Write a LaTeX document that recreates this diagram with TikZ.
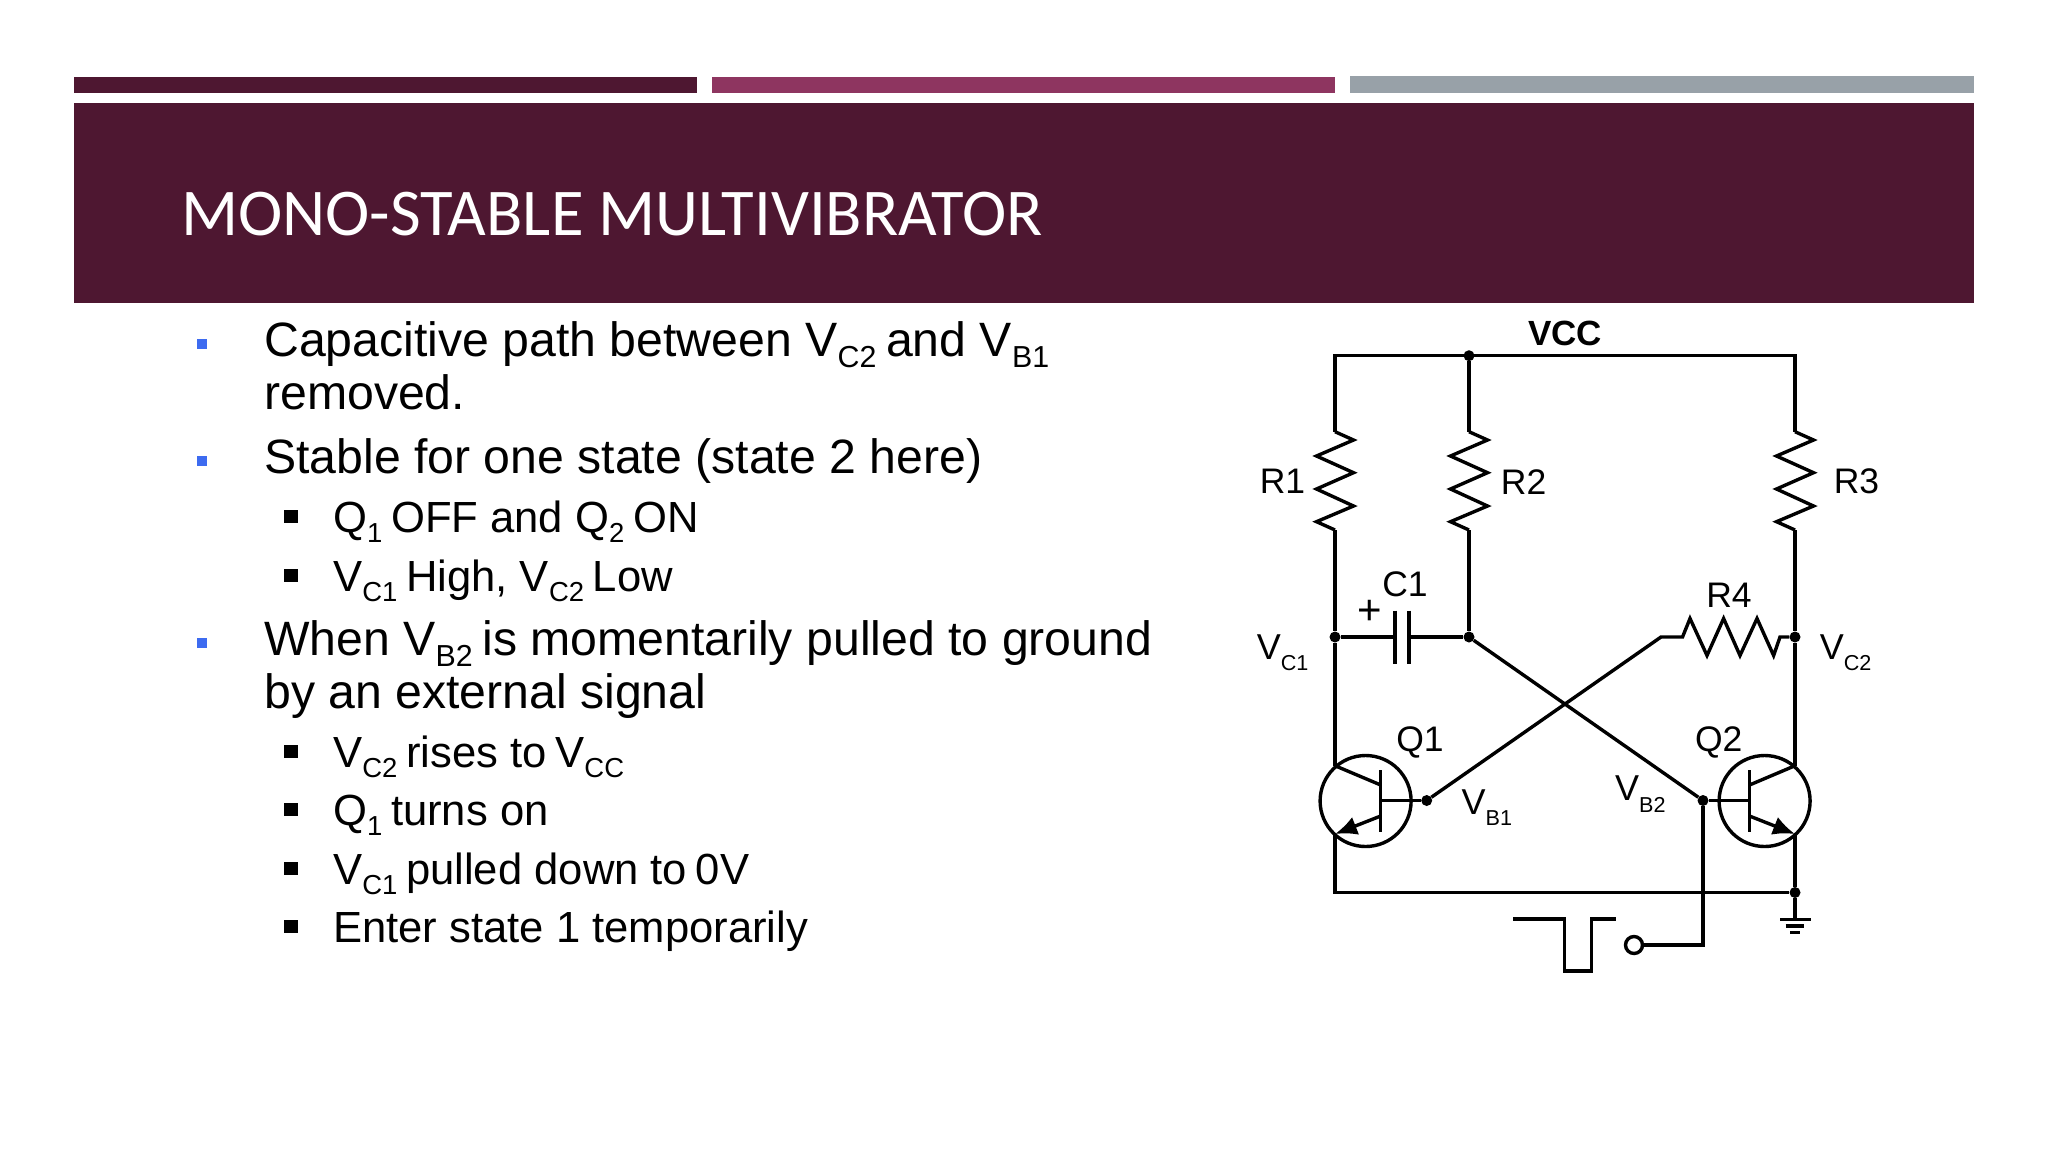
\documentclass[tikz,border=0pt]{standalone}
\usepackage{fontspec}
\usepackage{graphicx}
\usetikzlibrary{arrows.meta}
\setmainfont{Liberation Sans}
\newfontfamily\titlefont{Carlito}
\definecolor{wine}{HTML}{4E1731}
\definecolor{plum}{HTML}{8E3560}
\definecolor{slate}{HTML}{98A1A8}
\definecolor{bulletblue}{HTML}{3D6BF0}
\newcommand{\subt}[1]{\raisebox{-.24em}{\scalebox{.63}{#1}}}
\newcommand{\nsub}[1]{\raisebox{-.32em}{\scalebox{.6}{#1}}}
\newcommand{\gap}{\hspace{.2em}}
\tikzset{
  lvlone/.style={anchor=base west,inner sep=0pt,font=\fontsize{48.2}{54}\selectfont,text=black},
  lvltwo/.style={anchor=base west,inner sep=0pt,font=\fontsize{43.6}{50}\selectfont,text=black},
  blueb/.style={fill=bulletblue,draw=none},
  blackb/.style={fill=black,draw=none},
  wire/.style={line width=3.4pt,draw=black,line join=miter},
  dotn/.style={circle,fill=black,inner sep=0pt,minimum size=11pt},
  lab/.style={inner sep=0pt,font=\fontsize{35.5}{40}\selectfont},
  vlab/.style={anchor=base west,inner sep=0pt,font=\fontsize{36}{40}\selectfont},
  xtor/.style={circle,draw=black,line width=3.4pt,inner sep=0pt,minimum size=91pt},
  emit/.style={wire,-{Latex[length=22pt,width=19pt]}},
}
\begin{document}
\begin{tikzpicture}[x=1pt,y=-1pt]
\useasboundingbox (0,0) rectangle (2048,1152);
\fill[white] (0,0) rectangle (2048,1152);
% header
\fill[wine] (74,77) rectangle (697,93);
\fill[plum] (712,77) rectangle (1335,93);
\fill[slate] (1350,76) rectangle (1974,93);
\fill[wine] (74,103) rectangle (1974,303);
\node[anchor=base west,inner sep=0pt,text=white,font=\titlefont\fontsize{66.8}{70}\selectfont] (title) at (181,235) {MONO-STABLE MULTIVIBRATOR};
% bullets
\fill[blueb] (197,339) rectangle (206.5,349);
\fill[blueb] (197,456) rectangle (206.5,466);
\fill[blueb] (197,638) rectangle (206.5,648);
\foreach \yy in {510,569,745,803,862,920} \fill[blackb] (284,\yy) rectangle (298,\yy+12.7);
% text
\node[lvlone] (t1) at (264,356) {Capacitive path between V\subt{C2}\gap and V\subt{B1}};
\node[lvlone] (t2) at (264,409) {removed.};
\node[lvlone] (t3) at (264,473) {Stable for one state (state 2 here)};
\node[lvltwo] (t4) at (333,532) {Q\subt{1}\gap OFF and Q\subt{2}\gap ON};
\node[lvltwo] (t5) at (333,591) {V\subt{C1}\gap High, V\subt{C2}\gap Low};
\node[lvlone] (t6) at (264,655) {When V\subt{B2}\gap is momentarily pulled to ground};
\node[lvlone] (t7) at (264,708) {by an external signal};
\node[lvltwo] (t8) at (333,767) {V\subt{C2}\gap rises to\gap V\subt{CC}};
\node[lvltwo] (t9) at (333,825.5) {Q\subt{1}\gap turns on};
\node[lvltwo] (t10) at (333,884) {V\subt{C1}\gap pulled down to\gap 0V};
\node[lvltwo] (t11) at (333,942) {Enter state 1 temporarily};
% circuit coordinates
\coordinate (tl) at (1335,355.7);
\coordinate (tr) at (1795,355.7);
\node[dotn] (tm) at (1469,355.7) {};
\coordinate (r1t) at (1335,431.7);
\coordinate (r1b) at (1335,530);
\coordinate (r2t) at (1469,431.7);
\coordinate (r2b) at (1469,530);
\coordinate (r3t) at (1795,431.7);
\coordinate (r3b) at (1795,530);
\node[dotn] (vc1) at (1335,637) {};
\node[dotn] (j2) at (1469,637) {};
\node[dotn] (vc2) at (1795,637) {};
\coordinate (cpa) at (1395,637);
\coordinate (cpb) at (1409,637);
\coordinate (cpat) at (1395,610.7);
\coordinate (cpab) at (1395,664);
\coordinate (cpbt) at (1409,610.7);
\coordinate (cpbb) at (1409,664);
\coordinate (r4k) at (1661,637);
\coordinate (r4a) at (1682.5,637);
\coordinate (r4b) at (1780,637);
\node[xtor] (q1) at (1365.6,801) {};
\node[xtor] (q2) at (1764.6,801) {};
\node[dotn] (vb1) at (1426.7,800.5) {};
\node[dotn] (vb2) at (1703,800.5) {};
\coordinate (b1a) at (1380.7,770);
\coordinate (b1b) at (1380.7,831.7);
\coordinate (b1m) at (1380.7,800.5);
\coordinate (b2a) at (1749.5,770);
\coordinate (b2b) at (1749.5,831.7);
\coordinate (b2m) at (1749.5,800.5);
\coordinate (c1) at (1335,765.7);
\coordinate (c1i) at (1380.7,785);
\coordinate (e1) at (1335,834);
\coordinate (e1i) at (1380.7,816);
\coordinate (c2) at (1795,765.7);
\coordinate (c2i) at (1749.5,785);
\coordinate (e2) at (1795,834);
\coordinate (e2i) at (1749.5,816);
\coordinate (bl) at (1335,892.5);
\node[dotn] (br) at (1795,892.5) {};
\coordinate (gnd) at (1795,919.3);
\coordinate (ga) at (1780,919.3);
\coordinate (gb) at (1810.6,919.3);
\coordinate (gc) at (1785.6,926);
\coordinate (gd) at (1804,926);
\coordinate (ge) at (1790,932.3);
\coordinate (gf) at (1800,932.3);
\coordinate (p0) at (1513,919);
\coordinate (p1) at (1564.6,919);
\coordinate (p2) at (1564.6,971);
\coordinate (p3) at (1591.4,971);
\coordinate (p4) at (1591.4,919);
\coordinate (p5) at (1615.5,919);
\node[circle,draw=black,line width=3.4pt,fill=white,inner sep=0pt,minimum size=17pt] (trig) at (1634,945) {};
\coordinate (tk) at (1703,945);
% wires
\draw[wire] (r1t) -- (tl) -- (tr) -- (r3t);
\draw[wire] (tm) -- (r2t);
\foreach \n in {r1,r2,r3}
  \draw[wire] (\n t) -- ++(18.5,8.3) -- ++(-37,16) -- ++(37,16.7) -- ++(-37,16.3) -- ++(37,17) -- ++(-37,15.7) -- (\n b);
\draw[wire] (r1b) -- (vc1) -- (c1);
\draw[wire] (r2b) -- (j2);
\draw[wire] (r3b) -- (vc2) -- (c2);
\draw[wire] (vc1) -- (cpa);
\draw[wire] (cpb) -- (j2);
\draw[wire] (cpat) -- (cpab);
\draw[wire] (cpbt) -- (cpbb);
\draw[wire] (j2) -- (vb2);
\draw[wire] (vb1) -- (r4k) -- (r4a) -- ++(7.5,-18.5) -- ++(17,37) -- ++(16.6,-37) -- ++(16.4,37) -- ++(17,-37) -- ++(16.6,37) -- (r4b) -- (vc2);
% transistors
\draw[wire] (b1a) -- (b1b);
\draw[wire] (b2a) -- (b2b);
\draw[wire] (b1m) -- (vb1);
\draw[wire] (b2m) -- (vb2);
\draw[wire] (c1i) -- (c1);
\draw[wire] (c2i) -- (c2);
\draw[emit] (e1i) -- (e1);
\draw[emit] (e2i) -- (e2);
\draw[wire] (e1) -- (bl) -- (br);
\draw[wire] (e2) -- (br) -- (gnd);
\draw[wire] (ga) -- (gb);
\draw[wire] (gc) -- (gd);
\draw[wire] (ge) -- (gf);
\draw[wire] (p0) -- (p1) -- (p2) -- (p3) -- (p4) -- (p5);
\draw[wire] (vb2) -- (tk) -- (trig);
% labels
\node[lab,font=\fontsize{35}{40}\selectfont\bfseries] (vcc) at (1565,333) {VCC};
\node[lab] (lr1) at (1282.5,481.7) {R1};
\node[lab] (lr2) at (1523.6,481.7) {R2};
\node[lab] (lr3) at (1856.5,481.7) {R3};
\node[lab] (lr4) at (1729,595) {R4};
\node[lab] (lc1) at (1405,584) {C1};
\node[lab,font=\fontsize{42}{44}\selectfont] (lplus) at (1370,612) {+};
\node[lab] (lq1) at (1420,742) {Q1};
\node[lab] (lq2) at (1718.7,742) {Q2};
\node[vlab] (lvc1) at (1256.6,659) {V\nsub{C1}};
\node[vlab] (lvc2) at (1819.6,659) {V\nsub{C2}};
\node[vlab] (lvb1) at (1461.5,814) {V\nsub{B1}};
\node[vlab] (lvb2) at (1615,800.7) {V\nsub{B2}};
\end{tikzpicture}
\end{document}
